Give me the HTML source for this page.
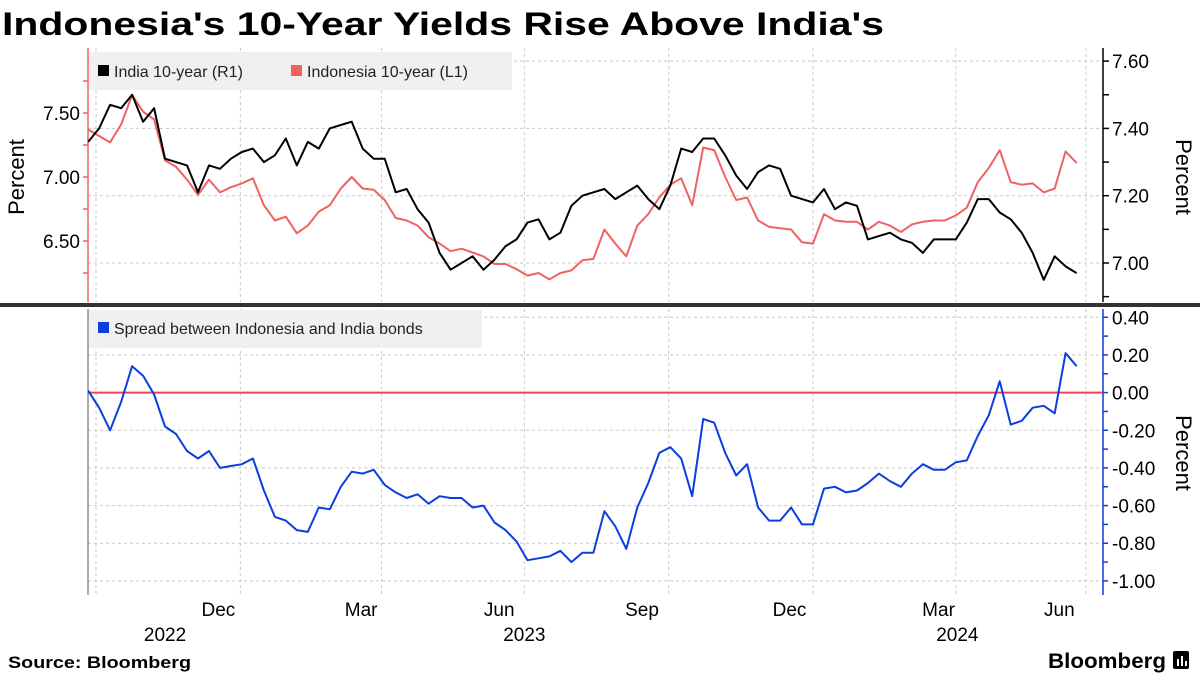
<!DOCTYPE html>
<html><head><meta charset="utf-8"><style>
body{margin:0;background:#fff;width:1200px;height:675px;overflow:hidden;font-family:"Liberation Sans",sans-serif}
svg{display:block}
</style></head><body>
<svg id="chart" width="1200" height="675" viewBox="0 0 1200 675">
<text x="2" y="35" font-size="32" font-weight="bold" fill="#000" textLength="882" lengthAdjust="spacingAndGlyphs">Indonesia's 10-Year Yields Rise Above India's</text>
<g id="topPanel"></g>
<g id="botPanel"></g>
<rect x="0" y="303" width="1200" height="4" fill="#333"/>
<g id="xax"></g>
<text x="8" y="668" font-size="17" font-weight="bold" fill="#000" textLength="183" lengthAdjust="spacingAndGlyphs">Source: Bloomberg</text>
<text x="1048" y="668" font-size="21" font-weight="bold" fill="#000" textLength="118" lengthAdjust="spacingAndGlyphs">Bloomberg</text>
<g><rect x="1173" y="651" width="16" height="18" rx="2" fill="#000"/><rect x="1177" y="659" width="2" height="7" fill="#fff"/><rect x="1181" y="656" width="2" height="10" fill="#fff"/><rect x="1185" y="661" width="2" height="5" fill="#fff"/></g>
</svg>
<script>
// weekly observations starting 2022-09-26
const startDay = -5; // days from 2022-10-01
const stepDays = 7;
const india = [7.36,7.40,7.47,7.46,7.50,7.42,7.46,7.31,7.30,7.29,7.21,7.29,7.28,7.31,7.33,7.34,7.30,7.32,7.37,7.29,7.36,7.34,7.40,7.41,7.42,7.34,7.31,7.31,7.21,7.22,7.16,7.12,7.03,6.98,7.00,7.02,6.98,7.01,7.05,7.07,7.12,7.13,7.07,7.09,7.17,7.20,7.21,7.22,7.19,7.21,7.23,7.19,7.16,7.23,7.34,7.33,7.37,7.37,7.32,7.26,7.22,7.27,7.29,7.28,7.20,7.19,7.18,7.22,7.16,7.18,7.17,7.07,7.08,7.09,7.07,7.06,7.03,7.07,7.07,7.07,7.12,7.19,7.19,7.15,7.13,7.09,7.03,6.95,7.02,6.99,6.97];
const indonesia = [7.37,7.32,7.27,7.41,7.64,7.51,7.45,7.13,7.08,6.98,6.86,6.98,6.88,6.92,6.95,6.99,6.78,6.66,6.69,6.56,6.62,6.73,6.78,6.91,7.00,6.91,6.90,6.82,6.68,6.66,6.62,6.53,6.48,6.42,6.44,6.41,6.38,6.32,6.32,6.28,6.23,6.25,6.20,6.25,6.27,6.35,6.36,6.59,6.48,6.38,6.62,6.71,6.84,6.94,6.99,6.78,7.23,7.21,7.00,6.82,6.84,6.66,6.61,6.60,6.59,6.49,6.48,6.71,6.66,6.65,6.65,6.59,6.65,6.62,6.57,6.63,6.65,6.66,6.66,6.70,6.76,6.96,7.07,7.21,6.96,6.94,6.95,6.88,6.91,7.20,7.11];
const leftTicks = [7.50,7.00,6.50];
const rightTicks = [7.60,7.40,7.20,7.00];
const spreadTicks = [0.40,0.20,0.00,-0.20,-0.40,-0.60,-0.80,-1.00];
const gridDays = [0,92,182,273,365,457,548,631];
const monthLabels = ["Dec","Mar","Jun","Sep","Dec","Mar","Jun"];
const monthDays = [78,169,257,348,442,537,614];
const yearLabels = ["2022","2023","2024"];
const yearDays = [44,273,549];

const NS="http://www.w3.org/2000/svg";
function mk(tag,attrs,parent){const e=document.createElementNS(NS,tag);for(const k in attrs)e.setAttribute(k,attrs[k]);parent.appendChild(e);return e;}
const X = d => 96 + d*1.569;
const yL = v => 177 - (v-7.00)*128;
const yR = v => 263 - (v-7.00)*336.5;
const yS = v => 392.6 - v*188.3;
const topG=document.getElementById('topPanel'), botG=document.getElementById('botPanel'), xax=document.getElementById('xax');
const L=88, R=1103;

rightTicks.forEach(v=>{const l=mk('line',{x1:L,x2:R,y1:yR(v),y2:yR(v),stroke:'#c8c8c8','stroke-dasharray':'3,3'},topG);
});
spreadTicks.forEach(v=>{if(v===0)return;const l=mk('line',{x1:L,x2:R,y1:yS(v),y2:yS(v),stroke:'#c8c8c8','stroke-dasharray':'3,3'},botG);
});
gridDays.forEach(d=>{[[48,302],[309,595]].forEach(([a,b])=>{const l=mk('line',{x1:X(d),x2:X(d),y1:a,y2:b,stroke:'#c8c8c8','stroke-dasharray':'3,3'},topG);
});});

const lg=mk('rect',{x:89,y:52,width:423,height:38,fill:'#f0f0f0'},topG);

mk('rect',{x:98,y:65,width:11,height:11,fill:'#000'},topG);
let t=mk('text',{x:114,y:77,'font-size':16,fill:'#222'},topG);t.textContent='India 10-year (R1)';

mk('rect',{x:291,y:65,width:11,height:11,fill:'#f06262'},topG);
t=mk('text',{x:307,y:77,'font-size':16,fill:'#222'},topG);t.textContent='Indonesia 10-year (L1)';

const lg2=mk('rect',{x:89,y:310,width:393,height:38,fill:'#f0f0f0'},botG);

mk('rect',{x:98,y:322,width:11,height:11,fill:'#0a3ee0'},botG);
t=mk('text',{x:114,y:334,'font-size':16,fill:'#222'},botG);t.textContent='Spread between Indonesia and India bonds';


let a=mk('line',{x1:L,x2:L,y1:48,y2:302,stroke:'#f06262','stroke-width':1.5},topG);

for(let v=6.25;v<=7.76;v+=0.25){mk('line',{x1:L-5,x2:L,y1:yL(v),y2:yL(v),stroke:'#f06262','stroke-width':1.5},topG);}
leftTicks.forEach(v=>{const tx=mk('text',{x:80,y:yL(v)+7,'font-size':19,'text-anchor':'end',fill:'#000'},topG);tx.textContent=v.toFixed(2);
});
a=mk('line',{x1:R,x2:R,y1:48,y2:302,stroke:'#000','stroke-width':1.5},topG);

for(let v=6.90;v<=7.64;v+=0.1){mk('line',{x1:R,x2:R+6,y1:yR(v),y2:yR(v),stroke:'#000','stroke-width':1.5},topG);}
rightTicks.forEach(v=>{const tx=mk('text',{x:1112,y:yR(v)+7,'font-size':19,fill:'#000'},topG);tx.textContent=v.toFixed(2);
});
a=mk('line',{x1:L,x2:L,y1:309,y2:595,stroke:'#555','stroke-width':1},botG);

a=mk('line',{x1:R,x2:R,y1:309,y2:595,stroke:'#0a3ee0','stroke-width':1.5},botG);

for(let v=-1.0;v<=0.41;v+=0.1){mk('line',{x1:R,x2:R+5,y1:yS(v),y2:yS(v),stroke:'#0a3ee0','stroke-width':1.5},botG);}
spreadTicks.forEach(v=>{const tx=mk('text',{x:1112,y:yS(v)+7,'font-size':19,fill:'#000'},botG);tx.textContent=(v<0?'-':'')+Math.abs(v).toFixed(2);
});

t=mk('text',{transform:'translate(24,177) rotate(-90)','font-size':22,'text-anchor':'middle',fill:'#000'},topG);t.textContent='Percent';

t=mk('text',{transform:'translate(1176,177) rotate(90)','font-size':22,'text-anchor':'middle',fill:'#000'},topG);t.textContent='Percent';

t=mk('text',{transform:'translate(1176,453) rotate(90)','font-size':22,'text-anchor':'middle',fill:'#000'},botG);t.textContent='Percent';


a=mk('line',{x1:L,x2:R,y1:yS(0),y2:yS(0),stroke:'#f0405a','stroke-width':2},botG);


function path(arr,yf){return arr.map((v,i)=>(i?'L':'M')+X(startDay+i*stepDays).toFixed(1)+','+yf(v).toFixed(1)).join('');}
let p=mk('path',{d:path(indonesia,yL),fill:'none',stroke:'#f06262','stroke-width':2,'stroke-linejoin':'round'},topG);

p=mk('path',{d:path(india,yR),fill:'none',stroke:'#000','stroke-width':2,'stroke-linejoin':'round'},topG);

const spread=indonesia.map((v,i)=>v-india[i]);
p=mk('path',{d:path(spread,yS),fill:'none',stroke:'#0a3ee0','stroke-width':2,'stroke-linejoin':'round'},botG);


monthLabels.forEach((m,i)=>{const tx=mk('text',{x:X(monthDays[i]),y:616,'font-size':19,'text-anchor':'middle',fill:'#000'},xax);tx.textContent=m;
});
yearLabels.forEach((m,i)=>{const tx=mk('text',{x:X(yearDays[i]),y:641,'font-size':19,'text-anchor':'middle',fill:'#000'},xax);tx.textContent=m;
});
</script>
</body></html>
